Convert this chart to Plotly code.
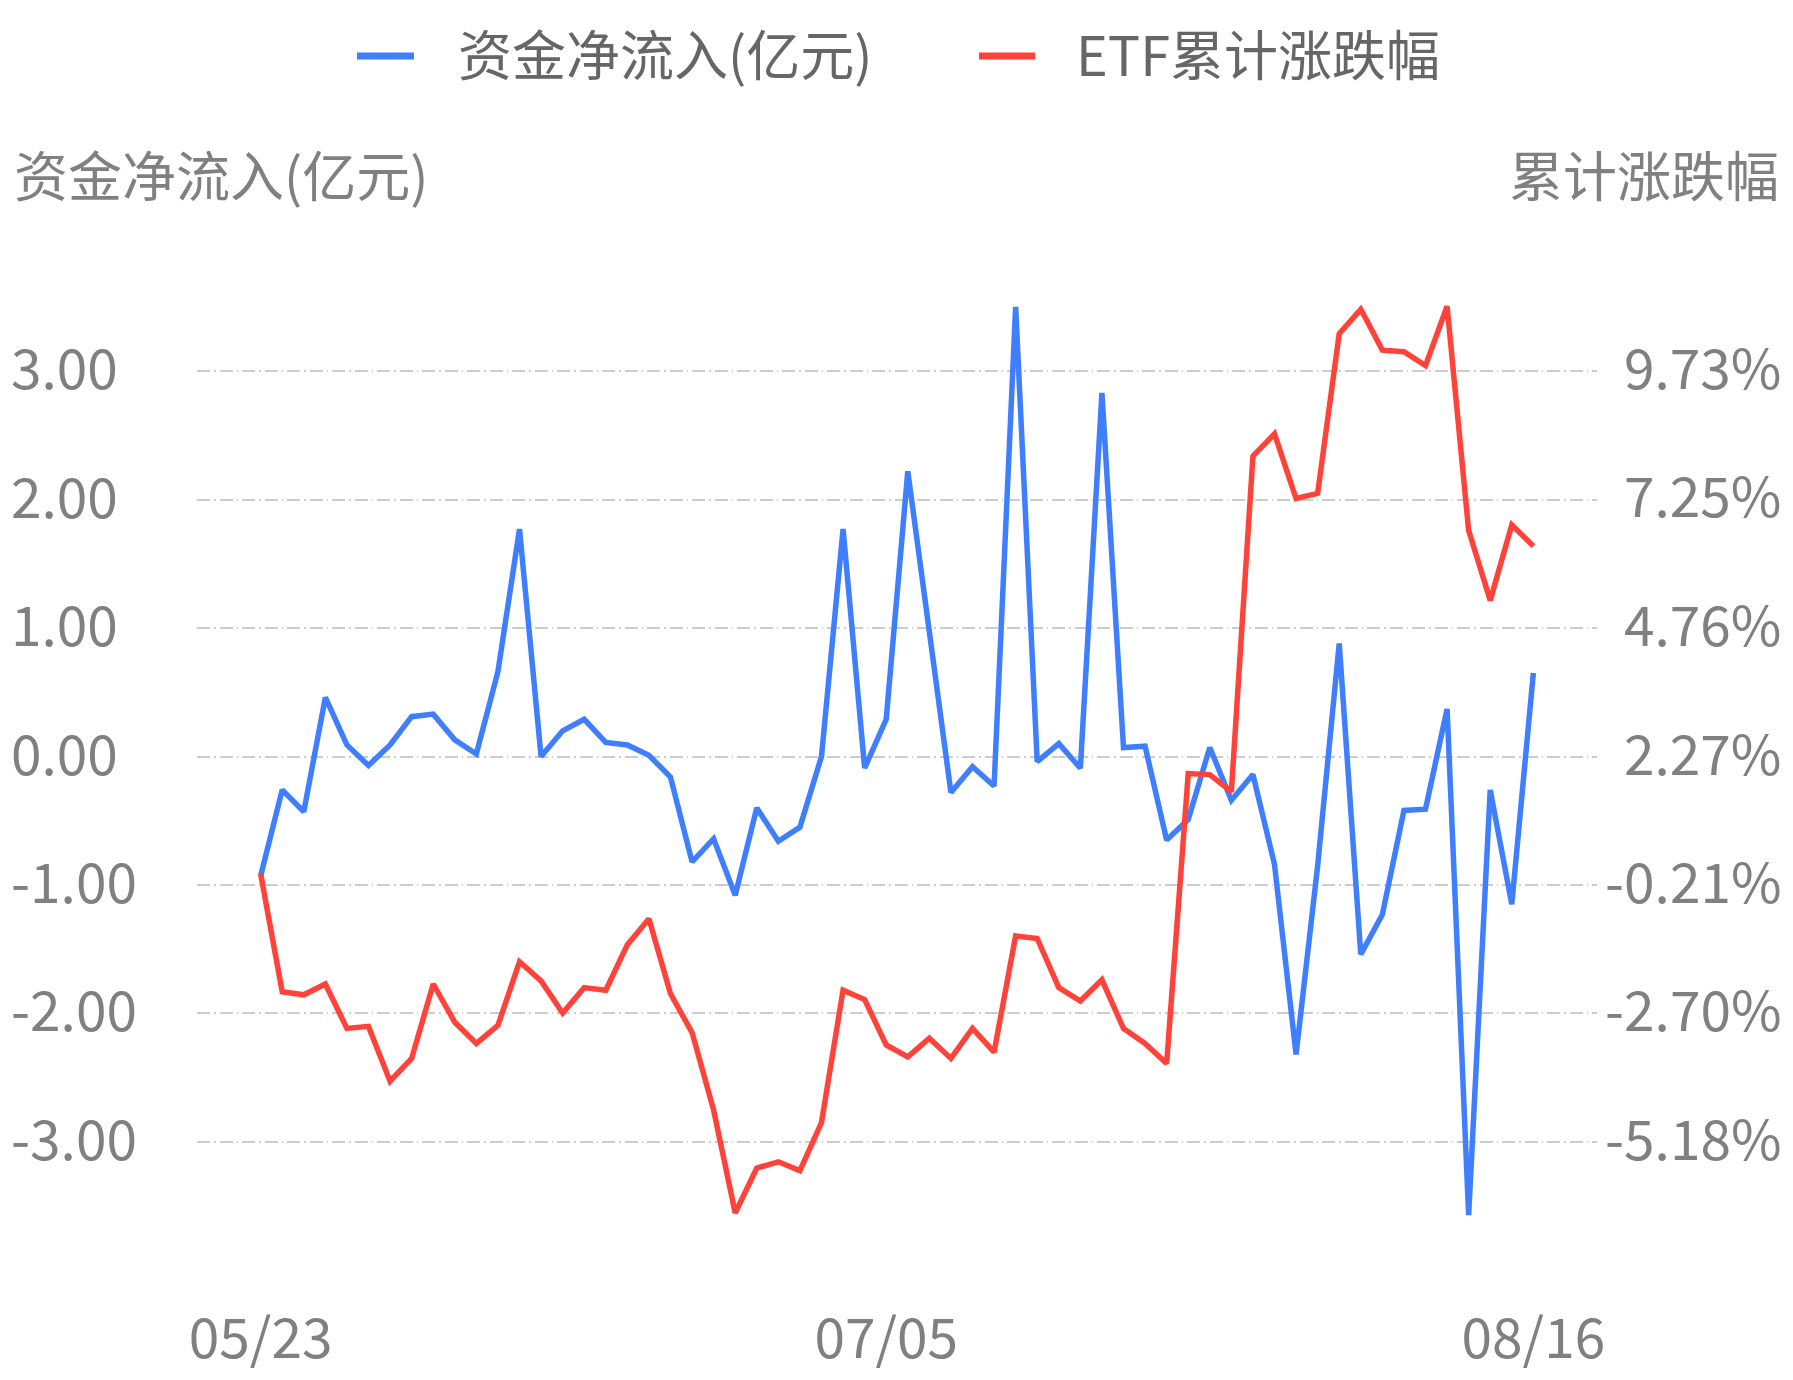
import plotly.graph_objects as go

# trading days shown on the category axis
dates = ["05/23", "05/24", "05/27", "05/28", "05/29", "05/30", "05/31",
         "06/03", "06/04", "06/05", "06/06", "06/11", "06/12", "06/13",
         "06/14", "06/17", "06/18", "06/19", "06/20", "06/21", "06/24",
         "06/25", "06/26", "06/27", "06/28", "07/01", "07/02", "07/03",
         "07/04", "07/05", "07/08", "07/09", "07/10", "07/11", "07/12",
         "07/15", "07/16", "07/17", "07/18", "07/19", "07/22", "07/23",
         "07/24", "07/25", "07/26", "07/29", "07/30", "07/31", "08/01",
         "08/02", "08/05", "08/06", "08/07", "08/08", "08/09", "08/12",
         "08/13", "08/14", "08/15", "08/16"]

# 资金净流入 (亿元)
net_inflow = [-0.93, -0.26, -0.43, 0.46, 0.09, -0.07, 0.09, 0.31, 0.33, 0.13,
              0.02, 0.66, 1.77, 0.00, 0.20, 0.29, 0.11, 0.09, 0.01, -0.16,
              -0.82, -0.64, -1.08, -0.40, -0.66, -0.55, 0.00, 1.77, -0.09, 0.29,
              2.22, 0.97, -0.28, -0.08, -0.23, 3.50, -0.04, 0.10, -0.09, 2.83,
              0.07, 0.08, -0.65, -0.49, 0.07, -0.34, -0.14, -0.84, -2.32, -0.85,
              0.88, -1.54, -1.23, -0.42, -0.41, 0.37, -3.57, -0.26, -1.15, 0.65]

# ETF累计涨跌幅 (%)
etf_change = [0.00, -2.28, -2.34, -2.13, -2.99, -2.95, -4.01, -3.57, -2.13, -2.87,
              -3.28, -2.93, -1.70, -2.07, -2.69, -2.20, -2.25, -1.37, -0.87, -2.32,
              -3.07, -4.57, -6.56, -5.69, -5.57, -5.74, -4.81, -2.25, -2.43, -3.31,
              -3.54, -3.18, -3.57, -2.99, -3.45, -1.20, -1.25, -2.20, -2.46, -2.05,
              -2.99, -3.28, -3.67, 1.94, 1.92, 1.59, 8.08, 8.51, 7.26, 7.36,
              10.45, 10.92, 10.13, 10.10, 9.83, 10.98, 6.64, 5.29, 6.75, 6.34]

left_ticks = [-3, -2, -1, 0, 1, 2, 3]
right_ticks = [-5.18, -2.70, -0.21, 2.27, 4.76, 7.25, 9.73]
x_ticks = [dates[0], dates[29], dates[59]]

BLUE = "#3F7FFF"
RED = "#FF433A"
FONT = "Noto Sans CJK SC"
GREY = "#808080"
W, H = 1793, 1380
OFF = 8  # page body margin
L, R, T, B = 189, 204, 295, 169


def px(x):
    # page pixel -> paper x
    return (x - OFF - L) / (W - L - R)


def py(y):
    # page pixel -> paper y
    return (H - B - (y - OFF)) / (H - T - B)


pad = 0.03
lo, hi = min(net_inflow) - pad, max(net_inflow) + pad
scale = (right_ticks[-1] - right_ticks[0]) / (left_ticks[-1] - left_ticks[0])
base = right_ticks[3] - scale * left_ticks[3]

fig = go.Figure()
fig.add_trace(go.Scatter(x=dates, y=net_inflow, mode="lines", name="资金净流入(亿元)",
                         line=dict(color=BLUE, width=5.5)))
fig.add_trace(go.Scatter(x=dates, y=etf_change, mode="lines", name="ETF累计涨跌幅",
                         line=dict(color=RED, width=5.5), yaxis="y2"))

fig.update_layout(
    width=W, height=H,
    margin=dict(l=L, r=R, t=T, b=B),
    paper_bgcolor="white", plot_bgcolor="white",
    showlegend=False,
    font=dict(family=FONT, size=55, color=GREY),
    xaxis=dict(type="category", range=[-2.95, len(dates) - 1 + 2.95],
               tickvals=x_ticks, ticktext=x_ticks, showgrid=False,
               showline=False, zeroline=False, ticks="", ticklabelstandoff=83,
               automargin=False),
    # y tick labels are written below as left/right aligned text
    yaxis=dict(range=[lo, hi], tickvals=left_ticks, showticklabels=False,
               showgrid=True, gridcolor="#cccccc", gridwidth=1.5,
               griddash="13px,4px,1.5px,4px", zeroline=False, showline=False,
               ticks="", automargin=False),
    yaxis2=dict(overlaying="y", side="right",
                range=[base + scale * lo, base + scale * hi],
                tickvals=right_ticks, showticklabels=False,
                showgrid=False, zeroline=False, showline=False,
                ticks="", automargin=False),
)

for v in left_ticks:
    fig.add_annotation(text=f"{v:.2f}", xref="paper", yref="y", x=px(9), y=v,
                       xanchor="left", yanchor="middle", yshift=6, showarrow=False,
                       font=dict(family=FONT, size=55, color=GREY))
for v in right_ticks:
    fig.add_annotation(text=f"{v:.2f}%", xref="paper", yref="y2", x=px(1784), y=v,
                       xanchor="right", yanchor="middle", yshift=6, showarrow=False,
                       font=dict(family=FONT, size=55, color=GREY))

# legend drawn at the top centre
legend_items = [("资金净流入(亿元)", BLUE, 357, 414, 456),
                ("ETF累计涨跌幅", RED, 979, 1035, 1074)]
for text, color, x0, x1, tx in legend_items:
    fig.add_shape(type="line", xref="paper", yref="paper",
                  x0=px(x0), x1=px(x1), y0=py(56), y1=py(56),
                  line=dict(color=color, width=7))
    fig.add_annotation(text=text, xref="paper", yref="paper", x=px(tx), y=py(52),
                       xanchor="left", yanchor="middle", showarrow=False,
                       font=dict(family=FONT, size=54, color="#666666"))

# axis names
fig.add_annotation(text="资金净流入(亿元)", xref="paper", yref="paper", x=px(12), y=py(174),
                   xanchor="left", yanchor="middle", showarrow=False,
                   font=dict(family=FONT, size=54, color=GREY))
fig.add_annotation(text="累计涨跌幅", xref="paper", yref="paper", x=px(1781), y=py(174),
                   xanchor="right", yanchor="middle", showarrow=False,
                   font=dict(family=FONT, size=54, color=GREY))

fig.write_html("out.html")
